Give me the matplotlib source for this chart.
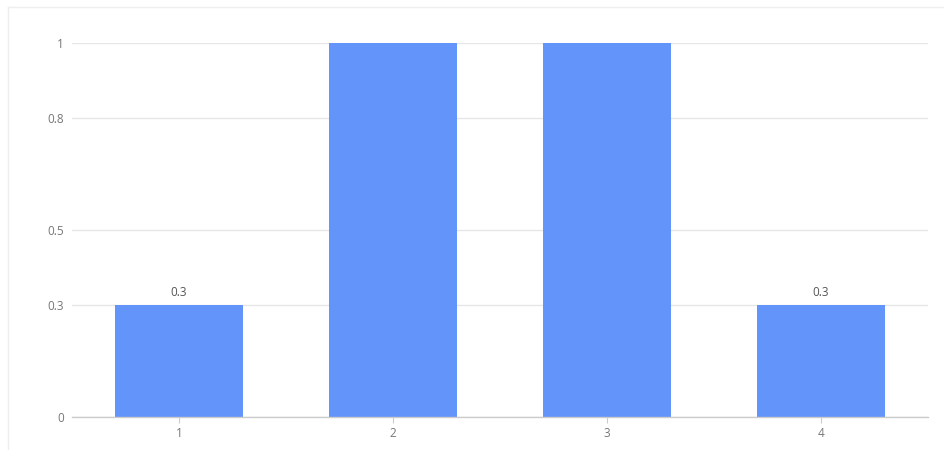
import matplotlib
matplotlib.use('Agg')
import matplotlib.pyplot as plt
from matplotlib.lines import Line2D

categories = ['1', '2', '3', '4']
values = [0.3, 1, 1, 0.3]
bar_labels = ['0.3', '', '', '0.3']
y_ticks = [0, 0.3, 0.5, 0.8, 1]
y_tick_labels = ['0', '0.3', '0.5', '0.8', '1']

plt.rcParams['font.family'] = ['Open Sans', 'DejaVu Sans']

W, H = 944, 450
fig = plt.figure(figsize=(W / 100, H / 100), dpi=100)
ax = fig.add_axes([72 / W, (H - 417) / H, (928 - 72) / W, (417 - 43) / H])

x = range(len(categories))
bars = ax.bar(x, values, width=0.6, color='#6294F9', zorder=3)
for b, lab in zip(bars, bar_labels):
    if lab:
        ax.text(b.get_x() + b.get_width() / 2, b.get_height() + 0.015, lab,
                ha='center', va='bottom', fontsize=8.5, color='#555555')

ax.set_xlim(-0.5, len(categories) - 0.5)
ax.set_ylim(0, 1)
ax.set_xticks(list(x))
ax.set_xticklabels(categories)
ax.set_yticks(y_ticks)
ax.set_yticklabels(y_tick_labels)
ax.tick_params(axis='x', length=4, color='#cccccc', labelsize=8.5, labelcolor='#777777', pad=3)
ax.tick_params(axis='y', length=0, labelsize=8.5, labelcolor='#777777', pad=6)
ax.grid(axis='y', color='#e6e6e6', linewidth=1, zorder=0)
for s in ['top', 'right', 'left']:
    ax.spines[s].set_visible(False)
ax.spines['bottom'].set_color('#cccccc')
ax.spines['bottom'].set_linewidth(1)
ax.spines['bottom'].set_zorder(4)

# faint container border
fig.add_artist(Line2D([8 / W, 1], [(H - 7) / H, (H - 7) / H], color='#eeeeee', lw=1))
fig.add_artist(Line2D([8 / W, 8 / W], [0, (H - 7) / H], color='#eeeeee', lw=1))

fig.savefig('out.png', dpi=100)
